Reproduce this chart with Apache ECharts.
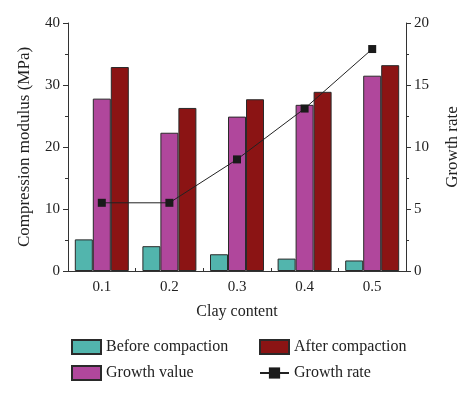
<!DOCTYPE html>
<html>
<head>
<meta charset="utf-8">
<script src="https://cdn.jsdelivr.net/npm/echarts@6/dist/echarts.min.js"></script>
<style>
  html, body { margin: 0; padding: 0; background: #fff; }
  #main { width: 474px; height: 397px; }
</style>
</head>
<body>
<div id="main"></div>
<script>
var categories = ['0.1', '0.2', '0.3', '0.4', '0.5']
var beforeCompaction = [5.1, 4.0, 2.7, 2.0, 1.7]
var growthValue = [27.8, 22.3, 24.9, 26.8, 31.5]
var afterCompaction = [32.9, 26.3, 27.7, 28.9, 33.2]
var growthRate = [5.5, 5.5, 9.0, 13.1, 17.9]

var font = 'Liberation Serif'
var axisColor = '#333'
var textColor = '#222'

var myChart = echarts.init(document.getElementById('main'))

var barStyle = function (color) {
  return { color: color, borderColor: '#2a2a2a', borderWidth: 1 }
}

var legendStyle = {
  orient: 'vertical',
  top: 334,
  itemWidth: 29,
  itemHeight: 14,
  itemGap: 10,
  textStyle: { fontFamily: font, fontSize: 16, color: textColor }
}

var option = {
  animation: false,
  textStyle: { fontFamily: font },
  grid: { left: 68, right: 68, top: 23, bottom: 126 },
  legend: [
    Object.assign({ left: 66, data: [
      { name: 'Before compaction', icon: 'rect' },
      { name: 'Growth value', icon: 'rect' }
    ] }, legendStyle),
    Object.assign({ left: 254, data: [
      { name: 'After compaction', icon: 'rect' },
      'Growth rate'
    ] }, legendStyle)
  ],
  xAxis: [
    {
      type: 'category',
      data: categories,
      name: 'Clay content',
      nameLocation: 'middle',
      nameGap: 33,
      nameTextStyle: { fontFamily: font, fontSize: 16, color: textColor },
      axisLine: { lineStyle: { color: axisColor } },
      axisTick: { alignWithLabel: true, length: 4, lineStyle: { color: axisColor } },
      axisLabel: { fontFamily: font, fontSize: 15, color: textColor, margin: 9 }
    },
    {
      // small inward ticks between the groups
      type: 'category',
      data: categories,
      position: 'bottom',
      axisLine: { show: false },
      axisTick: { show: true, inside: true, length: 3, lineStyle: { color: axisColor } },
      axisLabel: { show: false }
    }
  ],
  yAxis: [
    {
      type: 'value',
      min: 0,
      max: 40,
      interval: 10,
      name: 'Compression modulus (MPa)',
      nameLocation: 'middle',
      nameGap: 35,
      nameTextStyle: { fontFamily: font, fontSize: 17, color: textColor },
      axisLine: { show: true, lineStyle: { color: axisColor } },
      axisTick: { show: true, length: 5, lineStyle: { color: axisColor } },
      minorTick: { show: true, splitNumber: 2, length: 3, lineStyle: { color: axisColor } },
      splitLine: { show: false },
      axisLabel: { fontFamily: font, fontSize: 15, color: textColor, margin: 8 }
    },
    {
      type: 'value',
      min: 0,
      max: 20,
      interval: 5,
      name: 'Growth rate',
      nameLocation: 'middle',
      nameGap: 38,
      nameRotate: 90,
      nameTextStyle: { fontFamily: font, fontSize: 17, color: textColor },
      axisLine: { show: true, lineStyle: { color: axisColor } },
      axisTick: { show: true, length: 5, lineStyle: { color: axisColor } },
      minorTick: { show: true, splitNumber: 2, length: 3, lineStyle: { color: axisColor } },
      splitLine: { show: false },
      axisLabel: { fontFamily: font, fontSize: 15, color: textColor, margin: 8 }
    }
  ],
  series: [
    {
      name: 'Before compaction',
      type: 'bar',
      barWidth: 18,
      barGap: '0%',
      itemStyle: barStyle('#52b5ad'),
      data: beforeCompaction
    },
    {
      name: 'Growth value',
      type: 'bar',
      barWidth: 18,
      barGap: '0%',
      itemStyle: barStyle('#b0479c'),
      data: growthValue
    },
    {
      name: 'After compaction',
      type: 'bar',
      barWidth: 18,
      barGap: '0%',
      itemStyle: barStyle('#8b1414'),
      data: afterCompaction
    },
    {
      name: 'Growth rate',
      type: 'line',
      yAxisIndex: 1,
      symbol: 'rect',
      symbolSize: 8,
      z: 5,
      lineStyle: { color: '#222', width: 1 },
      itemStyle: { color: '#1a1a1a' },
      data: growthRate
    }
  ]
}
myChart.setOption(option, true)
</script>
</body>
</html>
